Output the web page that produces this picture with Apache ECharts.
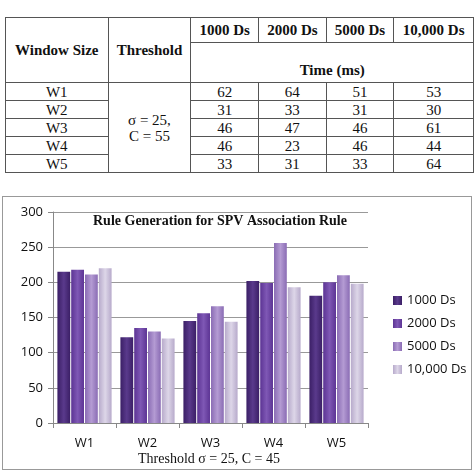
<!DOCTYPE html>
<html>
<head>
<meta charset="UTF-8">
<script src="https://cdn.jsdelivr.net/npm/echarts@6/dist/echarts.min.js"></script>
<style>
  body { margin:0; width:474px; height:471px; background:#fff; position:relative; overflow:hidden; }
  table.t { position:absolute; left:5px; top:17px; border-collapse:collapse; font-family:"Liberation Serif", serif; font-size:15px; color:#111; }
  table.t td { border:1px solid #555; text-align:center; padding:0; line-height:16px; }
  table.t .h { font-weight:bold; }
  #chart1 { position:absolute; left:2px; top:196px; width:470px; height:274px; border:1px solid #999; box-sizing:border-box; }
</style>
</head>
<body>
<table class="t" id="tbl"></table>
<div id="chart1"></div>
<script>
var windows = ['W1', 'W2', 'W3', 'W4', 'W5'];
var dsNames = ['1000 Ds', '2000 Ds', '5000 Ds', '10,000 Ds'];
// table: time (ms)
var time1000 = [62, 31, 46, 46, 33];
var time2000 = [64, 33, 47, 23, 31];
var time5000 = [51, 31, 46, 46, 33];
var time10000 = [53, 30, 61, 44, 64];
// chart: rules generated
var rules1000 = [215, 122, 145, 202, 181];
var rules2000 = [218, 135, 156, 199, 200];
var rules5000 = [211, 130, 166, 256, 210];
var rules10000 = [220, 120, 144, 193, 198];
var yTicks = [0, 50, 100, 150, 200, 250, 300];

// 表格
var times = [time1000, time2000, time5000, time10000];
var widths = [102, 82, 67, 67, 67, 79];
var html = '<tr style="height:25px"><td class="h" rowspan="2" style="width:' + widths[0] + 'px">Window Size</td>' +
  '<td class="h" rowspan="2" style="width:' + widths[1] + 'px">Threshold</td>';
dsNames.forEach(function (d, i) { html += '<td class="h" style="width:' + widths[i + 2] + 'px">' + d + '</td>'; });
html += '</tr><tr style="height:40px"><td class="h" colspan="4" style="vertical-align:bottom;padding-bottom:4px">Time (ms)</td></tr>';
windows.forEach(function (w, r) {
  html += '<tr style="height:18px"><td>' + w + '</td>';
  if (r === 0) html += '<td rowspan="5">σ = 25,<br>C = 55</td>';
  times.forEach(function (t) { html += '<td>' + t[r] + '</td>'; });
  html += '</tr>';
});
document.getElementById('tbl').innerHTML = html;

// 图表
var myChart = echarts.init(document.getElementById('chart1'));
var colors = [['#3b1f66', '#5a3a8c'], ['#5c3494', '#7f58b5'], ['#8a6cb4', '#b49bd3'], ['#b7aacb', '#ddd6e8']];
var series = [rules1000, rules2000, rules5000, rules10000].map(function (d, i) {
  return {
    name: dsNames[i], type: 'bar', data: d, barGap: '8%', barCategoryGap: '14%',
    itemStyle: { color: new echarts.graphic.LinearGradient(0, 0, 1, 0, [
      { offset: 0, color: colors[i][0] }, { offset: 0.5, color: colors[i][1] }, { offset: 1, color: colors[i][0] }]) }
  };
});
var option = {
  animation: false,
  title: { text: 'Rule Generation for SPV Association Rule', left: 85, top: 12,
    textStyle: { fontFamily: 'Liberation Serif', fontSize: 14, fontWeight: 'bold', color: '#111' } },
  legend: { orient: 'vertical', left: 385, top: 92, itemGap: 10, itemWidth: 9, itemHeight: 9, icon: 'rect',
    textStyle: { fontFamily: 'Open Sans', fontSize: 13, color: '#111' } },
  grid: { left: 50, right: 103, top: 15, bottom: 46 },
  xAxis: { type: 'category', data: windows,
    axisLine: { lineStyle: { color: '#888' } }, axisTick: { show: true, lineStyle: { color: '#888' } },
    axisLabel: { fontFamily: 'Open Sans', fontSize: 13, color: '#111', margin: 14 } },
  yAxis: { type: 'value', min: yTicks[0], max: yTicks[yTicks.length - 1], interval: 50,
    axisLine: { show: true, lineStyle: { color: '#888' } }, axisTick: { show: true, lineStyle: { color: '#888' } },
    splitLine: { lineStyle: { color: '#999' } },
    axisLabel: { fontFamily: 'Open Sans', fontSize: 13, color: '#111', margin: 10 } },
  graphic: [{ type: 'text', left: 135, top: 255,
    style: { text: 'Threshold σ = 25, C = 45', font: '14px "Liberation Serif"', fill: '#111' } }],
  series: series
};
myChart.setOption(option);
</script>
</body>
</html>
